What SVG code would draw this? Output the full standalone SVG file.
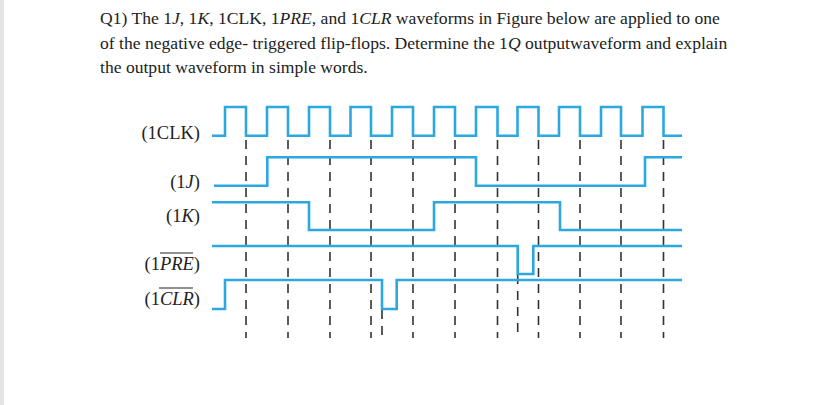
<svg xmlns="http://www.w3.org/2000/svg" width="823" height="405" viewBox="0 0 823 405">
<style>
text{font-family:"Liberation Serif",serif;font-size:17.6px;fill:#222}
.w{fill:none;stroke:#2ba8e0;stroke-width:2.6}
.d{stroke:#333;stroke-width:1.6;stroke-dasharray:9,7}
.lb{text-anchor:end;font-size:18.5px}
</style>
<rect width="823" height="405" fill="#fff"/>
<rect x="0" y="0" width="4" height="405" fill="#e4e4e4"/>
<g id="title">
<text x="100" y="24">Q1) The 1<tspan font-style="italic">J</tspan>, 1<tspan font-style="italic">K</tspan>, 1CLK, 1<tspan font-style="italic">PRE</tspan>, and 1<tspan font-style="italic">CLR</tspan> waveforms in Figure below are applied to one</text>
<text x="100" y="49">of the negative edge- triggered flip-flops. Determine the 1<tspan font-style="italic">Q</tspan> outputwaveform and explain</text>
<text x="100" y="73">the output waveform in simple words.</text>
</g>
<g id="labels">
<text class="lb" x="200" y="139">(1CLK)</text>
<text class="lb" x="200" y="188">(1<tspan font-style="italic">J</tspan>)</text>
<text class="lb" x="200" y="222">(1<tspan font-style="italic">K</tspan>)</text>
<text class="lb" x="200" y="270">(1<tspan font-style="italic">PRE</tspan>)</text>
<line x1="160" y1="253" x2="193" y2="253" stroke="#222" stroke-width="1.2"/>
<text class="lb" x="200" y="305">(1<tspan font-style="italic">CLR</tspan>)</text>
<line x1="159" y1="288" x2="193" y2="288" stroke="#222" stroke-width="1.2"/>
</g>
<g id="connectors">
<g class="d">
<line x1="246" y1="140" x2="246" y2="338"/>
<line x1="288" y1="140" x2="288" y2="338"/>
<line x1="330" y1="140" x2="330" y2="338"/>
<line x1="371" y1="140" x2="371" y2="338"/>
<line x1="382" y1="310" x2="382" y2="338"/>
<line x1="413" y1="140" x2="413" y2="338"/>
<line x1="455" y1="140" x2="455" y2="338"/>
<line x1="497.5" y1="140" x2="497.5" y2="338"/>
<line x1="517.7" y1="275" x2="517.7" y2="338"/>
<line x1="538.5" y1="140" x2="538.5" y2="338"/>
<line x1="580" y1="140" x2="580" y2="338"/>
<line x1="621" y1="140" x2="621" y2="338"/>
<line x1="663.5" y1="140" x2="663.5" y2="338"/>
</g>
</g>
<g id="clk"><path class="w" d="M212 135.7H225V107H246V135.7H267V107H288V135.7H309V107H330V135.7H350.5V107H371V135.7H392V107H413V135.7H434V107H455V135.7H476V107H497.5V135.7H517.5V107H538.5V135.7H559V107H580V135.7H601V107H621V135.7H642.5V107H663.5V135.7H682"/></g>
<g id="j"><path class="w" d="M214 185.7H267.3V157.3H476V185.7H645V157.3H682"/></g>
<g id="k"><path class="w" d="M212 202.3H309V230H434V202.3H560V230H682"/></g>
<g id="pre"><path class="w" d="M212 246H517.7V274H533.3V246H682"/></g>
<g id="clr"><path class="w" d="M212 309H225V280H382V309H396.7V280H682"/></g>
</svg>
